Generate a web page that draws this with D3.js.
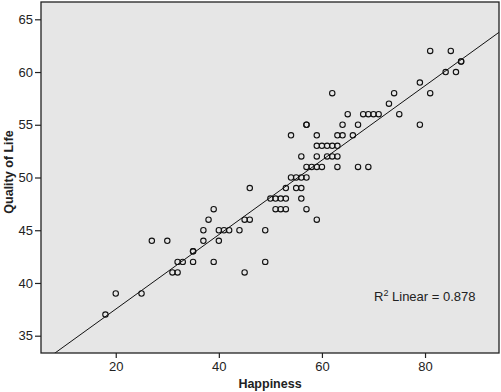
<!DOCTYPE html>
<html>
<head>
<meta charset="utf-8">
<script src="https://cdn.jsdelivr.net/npm/d3@7"></script>
<style>
  html, body { margin: 0; padding: 0; background: #fff; }
  svg { display: block; font-family: "Liberation Sans", Arial, sans-serif; }
</style>
</head>
<body>
<svg id="chart" width="501" height="392"></svg>
<script>
// ---- data (Happiness, Quality of Life) ----
const happiness = [18,20,25,27,30,31,32,32,33,35,35,35,37,37,38,39,39,40,41,42,40,44,45,46,45,46,49,49,
  50,51,52,53,56, 51,52,53,57, 53,55,56, 54,55,56,57,
  57,58,59,60,63,67,69, 56,59,61,62,63, 59,60,61,62,63, 54,59,63,64,66,
  57,57,64,67,79, 65,68,69,70,71,75, 73, 62,74,81, 79, 84,86, 87,87, 81,85, 59];
const qualityOfLife = [37,39,39,44,44,41,41,42,42,43,43,42,45,44,46,47,42,45,45,45,44,45,46,46,41,49,45,42,
  48,48,48,48,48, 47,47,47,47, 49,49,49, 50,50,50,50,
  51,51,51,51,51,51,51, 52,52,52,52,52, 53,53,53,53,53, 54,54,54,54,54,
  55,55,55,55,55, 56,56,56,56,56,56, 57, 58,58,58, 59, 60,60, 61,61, 62,62, 46];
const xTicks = [20, 40, 60, 80];
const yTicks = [35, 40, 45, 50, 55, 60, 65];
const xDomain = [5.5, 94.35];
const yDomain = [33.36, 66.64];
const fitLine = [30.46, 0.353];   // intercept, slope of linear fit
const rSquared = "0.878";

// ---- layout ----
const W = 501, H = 392;
const m = { left: 41, right: 2, top: 2, bottom: 39 };
const svg = d3.select("#chart");
const x = d3.scaleLinear().domain(xDomain).range([m.left, W - m.right]);
const y = d3.scaleLinear().domain(yDomain).range([H - m.bottom, m.top]);

svg.append("defs").append("clipPath").attr("id", "plotclip")
  .append("rect").attr("x", m.left).attr("y", m.top)
  .attr("width", W - m.left - m.right).attr("height", H - m.top - m.bottom);

// plot background
svg.append("rect")
  .attr("x", m.left).attr("y", m.top)
  .attr("width", W - m.left - m.right).attr("height", H - m.top - m.bottom)
  .attr("fill", "#e6e6e6");

// fit line
const plot = svg.append("g").attr("clip-path", "url(#plotclip)");
plot.append("line")
  .attr("x1", x(xDomain[0])).attr("y1", y(fitLine[0] + fitLine[1] * xDomain[0]))
  .attr("x2", x(xDomain[1])).attr("y2", y(fitLine[0] + fitLine[1] * xDomain[1]))
  .attr("stroke", "#111").attr("stroke-width", 1);

// points
plot.selectAll("circle.pt").data(happiness.map((h, i) => [h, qualityOfLife[i]]))
  .join("circle").attr("class", "pt")
  .attr("cx", d => x(d[0])).attr("cy", d => y(d[1]))
  .attr("r", 2.7)
  .attr("fill", "none").attr("stroke", "#111").attr("stroke-width", 1.1);

// axes
const xAxis = svg.append("g").attr("transform", `translate(0,${H - m.bottom})`)
  .call(d3.axisBottom(x).tickValues(xTicks).tickSize(5).tickPadding(4).tickFormat(d3.format("d")));
const yAxis = svg.append("g").attr("transform", `translate(${m.left},0)`)
  .call(d3.axisLeft(y).tickValues(yTicks).tickSize(6).tickPadding(2).tickFormat(d3.format("d")));
[xAxis, yAxis].forEach(g => {
  g.select(".domain").remove();
  g.selectAll(".tick line").attr("stroke", "#222").attr("stroke-width", 1.2);
  g.selectAll(".tick text").attr("fill", "#222").attr("font-size", 13)
    .attr("font-family", "Liberation Sans, Arial, sans-serif");
});

// frame
svg.append("rect")
  .attr("x", m.left).attr("y", m.top)
  .attr("width", W - m.left - m.right).attr("height", H - m.top - m.bottom)
  .attr("fill", "none").attr("stroke", "#222").attr("stroke-width", 1.3);

// axis titles
svg.append("text")
  .attr("x", (m.left + W - m.right) / 2).attr("y", 388)
  .attr("text-anchor", "middle").attr("font-size", 12.5).attr("font-weight", "bold")
  .attr("fill", "#222").text("Happiness");
svg.append("text")
  .attr("transform", `translate(13,172) rotate(-90)`)
  .attr("text-anchor", "middle").attr("font-size", 12.5).attr("font-weight", "bold")
  .attr("fill", "#222").text("Quality of Life");

// R² annotation
const ann = svg.append("text")
  .attr("x", 374).attr("y", 301)
  .attr("font-size", 13).attr("fill", "#222");
ann.append("tspan").text("R");
ann.append("tspan").attr("font-size", 9).attr("dy", -5).text("2");
ann.append("tspan").attr("dy", 5).text(" Linear = " + rSquared);
</script>
</body>
</html>
